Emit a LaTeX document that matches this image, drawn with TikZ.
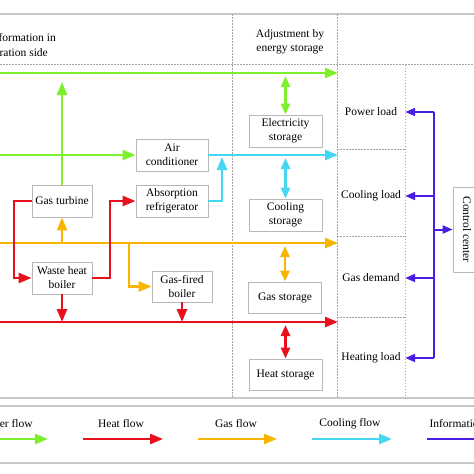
\documentclass[tikz,border=0pt]{standalone}
\usepackage{fontspec}
\usepackage{graphicx}
\setmainfont{Liberation Serif}
\usetikzlibrary{arrows.meta}
\definecolor{pgreen}{HTML}{7CF02A}
\definecolor{hred}{HTML}{E8101C}
\definecolor{gorange}{HTML}{F7B500}
\definecolor{ccyan}{HTML}{45D6F2}
\definecolor{ipurple}{HTML}{4A1EE0}
\definecolor{boxgray}{HTML}{B8B8B8}
\definecolor{framegray}{HTML}{C8C8C8}
\begin{document}
\begin{tikzpicture}[x=1pt,y=-1pt,
  font=\fontsize{11.5}{14}\selectfont,
  box/.style={draw=boxgray,line width=0.8pt,fill=white,align=center,inner sep=1pt,minimum height=32pt},
  flow/.style={line width=2.6pt,-{Triangle[length=13pt,width=10pt]}},
  bidir/.style={line width=2.6pt,{Triangle[length=11pt,width=9pt]}-{Triangle[length=11pt,width=9pt]}},
  info/.style={line width=2pt,draw=ipurple,-{Triangle[length=10pt,width=8pt]}},
  sep/.style={draw=framegray,line width=1.2pt},
  dotsep/.style={draw=gray!70,line width=0.6pt,dash pattern=on 1.5pt off 1.5pt},
  lbl/.style={inner sep=0pt}]
\useasboundingbox (0,0) rectangle (474,474);
\clip (0,0) rectangle (474,474);

% frame
\draw[sep] (0,14) -- (474,14);
\draw[sep] (0,398) -- (474,398);
\draw[sep] (0,406) -- (474,406);
\draw[sep] (0,463) -- (474,463);
\draw[dotsep] (0,64.5) -- (474,64.5);
\draw[dotsep] (232,14) -- (232,398);
\draw[dotsep] (337,14) -- (337,398);
\draw[dotsep] (405,64.5) -- (405,398);
\draw[dotsep] (337,149) -- (405,149);
\draw[dotsep] (337,236) -- (405,236);
\draw[dotsep] (337,317) -- (405,317);

% headings
\node[lbl,anchor=base east] (h1a) at (56,41) {Energy transformation in};
\node[lbl,anchor=base east] (h1b) at (48,56) {generation side};
\node[lbl,align=center] (h2) at (290,42) {Adjustment by\\energy storage};

% boxes
\node[box,minimum width=60pt] (gt) at (62,201) {Gas turbine};
\node[box,minimum width=72pt] (ac) at (172,155) {Air\\conditioner};
\node[box,minimum width=72pt] (ar) at (172,201) {Absorption\\refrigerator};
\node[box,minimum width=60pt] (whb) at (62,278) {Waste heat\\boiler};
\node[box,minimum width=60pt,minimum height=31pt] (gfb) at (182,286.5) {Gas-fired\\boiler};
\node[box,minimum width=73pt] (es) at (285.5,131) {Electricity\\storage};
\node[box,minimum width=73pt] (cs) at (285.5,215) {Cooling\\storage};
\node[box,minimum width=73pt,minimum height=31pt] (gs) at (285,297.5) {Gas storage};
\node[box,minimum width=73pt,minimum height=31pt] (hs) at (285.5,374.5) {Heat storage};
\node[box,minimum width=28pt,minimum height=85pt] (cc) at (467,229.5) {\rotatebox{-90}{Control center}};

% loads
\node[lbl,minimum width=68pt,minimum height=12pt] (pl) at (371,112) {Power load};
\node[lbl,minimum width=68pt,minimum height=12pt] (cl) at (371,196) {Cooling load};
\node[lbl,minimum width=68pt,minimum height=12pt] (gd) at (371,278) {Gas demand};
\node[lbl,minimum width=68pt,minimum height=12pt] (hl) at (371,358) {Heating load};

% bus coordinates
\coordinate (gA) at (0,73);   \coordinate (gB) at (338,73);
\coordinate (gC) at (0,155);
\coordinate (gT) at (62,82);
\coordinate (cB) at (338,155);
\coordinate (cK) at (222,201); \coordinate (cT) at (222,157);
\coordinate (oA) at (0,243);  \coordinate (oB) at (338,243);
\coordinate (oG) at (62,243); \coordinate (oF) at (129,243);
\coordinate (rA) at (0,322);  \coordinate (rB) at (338,322);
\coordinate (rK1) at (14,201); \coordinate (rK2) at (110,278);

% power
\draw[flow,pgreen] (gA) -- (gB);
\draw[flow,pgreen] (gC) -- (ac.west);
\draw[flow,pgreen] (gt.north) -- (gT);
\draw[bidir,pgreen] (285.5,76) -- (es.north);
% cooling
\draw[flow,ccyan] (ac.east) -- (cB);
\draw[flow,ccyan] (ar.east) -- (cK) -- (cT);
\draw[bidir,ccyan] (285.5,158) -- (cs.north);
% gas
\draw[flow,gorange] (oA) -- (oB);
\draw[flow,gorange] (oG) -- (gt.south);
\draw[flow,gorange] (oF) |- (gfb.west);
\draw[bidir,gorange] (285,246) -- (gs.north);
% heat
\draw[flow,hred] (rA) -- (rB);
\draw[flow,hred] (gt.west) -- (rK1) |- (whb.west);
\draw[flow,hred] (whb.east) -- (rK2) |- (ar.west);
\draw[flow,hred] (whb.south) -- (whb.south |- rA);
\draw[flow,hred] (gfb.south) -- (gfb.south |- rA);
\draw[bidir,hred] (285.5,325) -- (hs.north);
% information
\coordinate (iT) at (434,112); \coordinate (iB) at (434,358);
\draw[ipurple,line width=2pt] (iT) -- (iB);
\draw[info] (iT) -- (pl.east);
\draw[info] (434,196) -- (cl.east);
\draw[info] (434,278) -- (gd.east);
\draw[info] (iB) -- (hl.east);
\draw[info] (434,229.5) -- (cc.west);

% legend
\node[lbl] (lp) at (6,424) {Power flow};
\node[lbl] (lh) at (121,424) {Heat flow};
\node[lbl] (lg) at (236,424) {Gas flow};
\node[lbl] (lc) at (350,424) {Cooling flow};
\node[lbl] (li) at (469,424) {Information flow};
\draw[flow,pgreen] (-32,439) -- (48,439);
\draw[flow,hred] (83,439) -- (163,439);
\draw[flow,gorange] (198,439) -- (277,439);
\draw[flow,ccyan] (312,439) -- (392,439);
\draw[flow,ipurple] (427,439) -- (507,439);
\end{tikzpicture}
\end{document}
